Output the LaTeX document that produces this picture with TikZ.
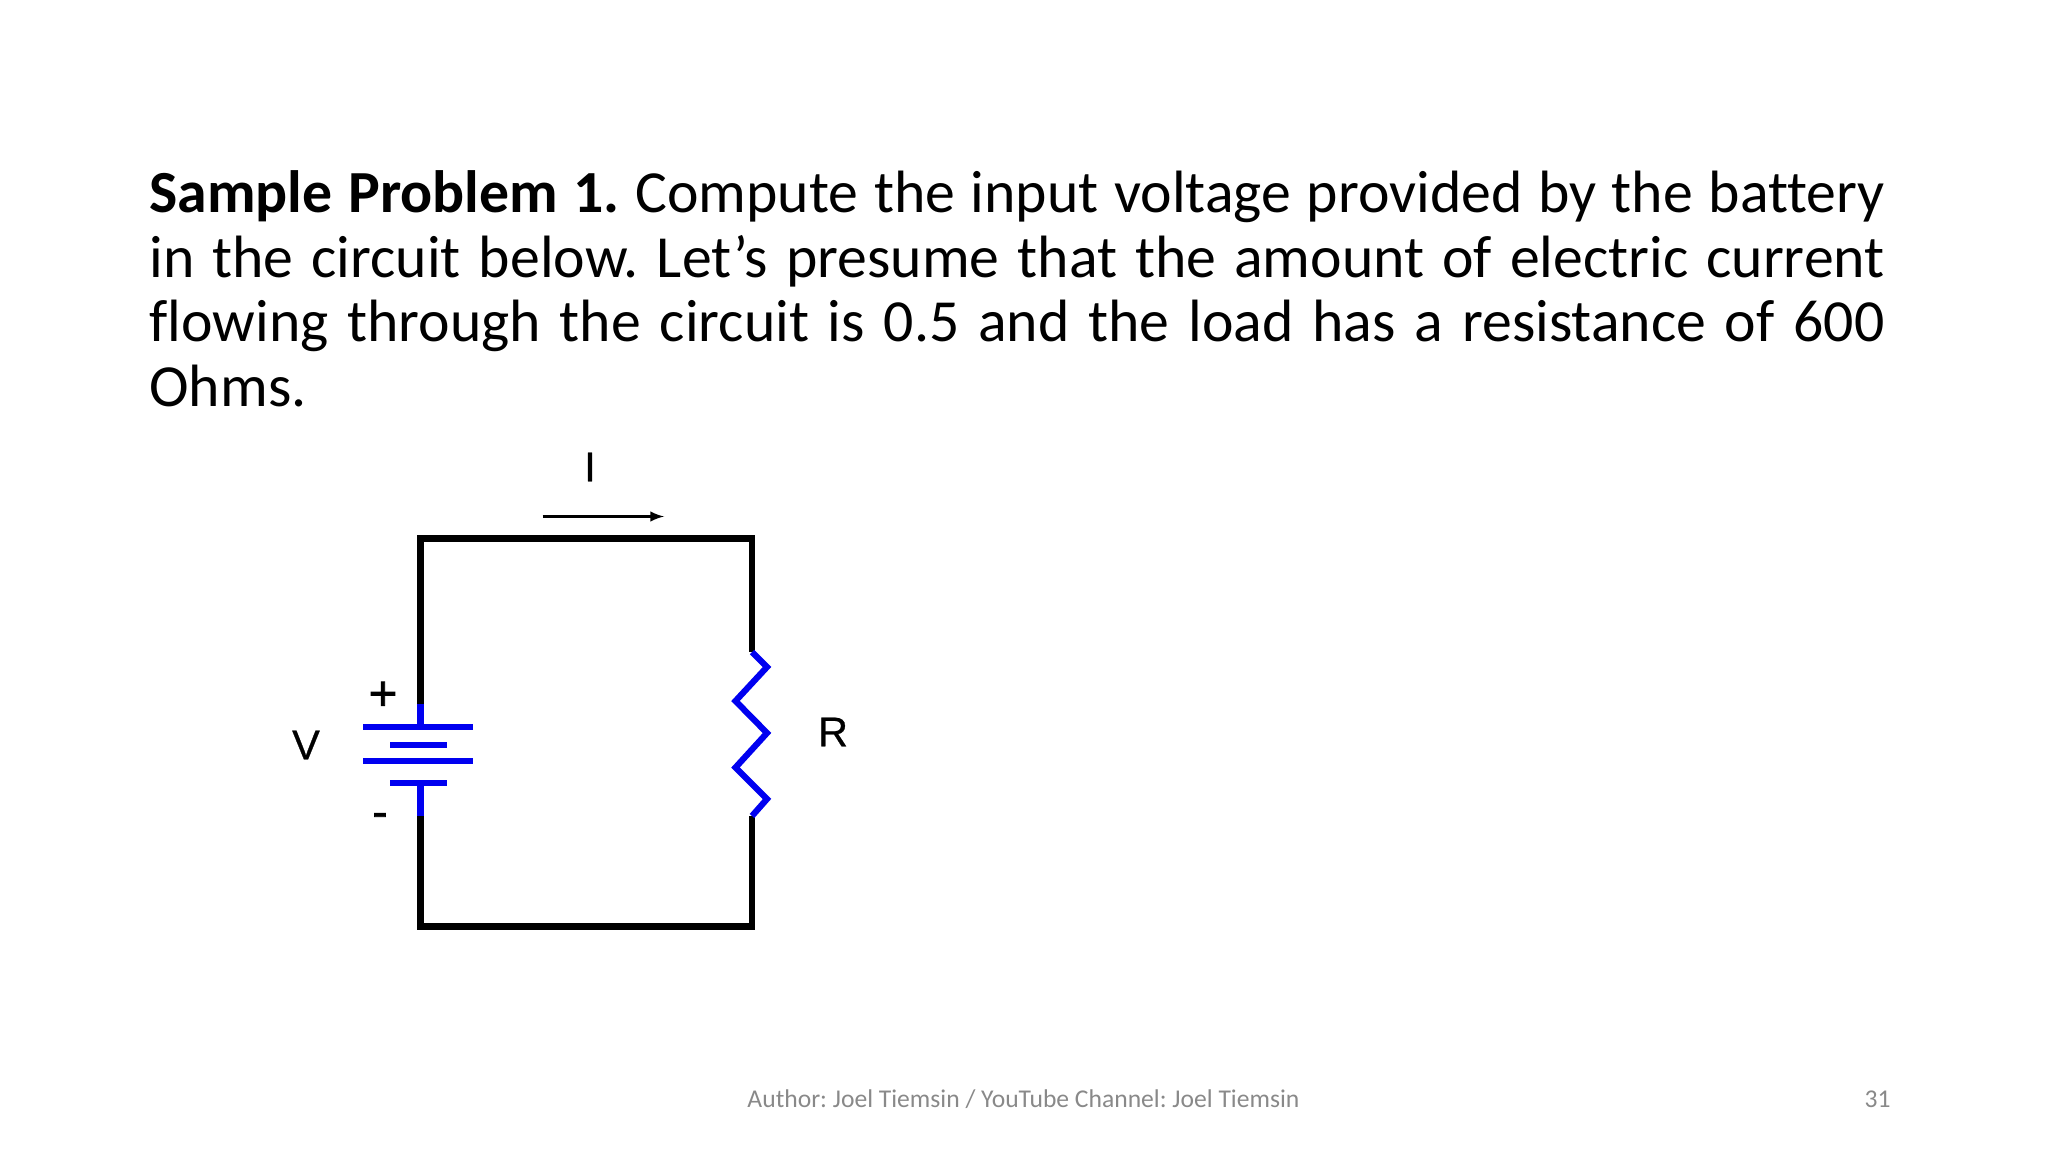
\documentclass[tikz,border=0pt]{standalone}
\usepackage{fontspec}
\setmainfont[Ligatures=NoCommon]{Carlito}
\newfontfamily\labelfont[FakeBold=0.6]{Liberation Sans}
\newfontfamily\signfont[FakeBold=1.6]{Liberation Sans}
\frenchspacing
\definecolor{wireblue}{RGB}{0,0,240}
\definecolor{footgray}{RGB}{137,137,137}
\begin{document}
\begin{tikzpicture}[x=0.46875pt, y=-0.46875pt,
        wire/.style={draw, black, line width=2.9pt},
        part/.style={draw, wireblue, line width=2.9pt},
        plate/.style={draw, wireblue, line width=3.1pt},
        lab/.style={inner sep=0pt, font=\labelfont\fontsize{19.5}{19.5}\selectfont},
        foot/.style={inner sep=0pt, footgray, font=\fontsize{12}{14}\selectfont}]
    \useasboundingbox (0,0) rectangle (2048,1152);
    \node[anchor=north west, inner sep=0pt, text width=813.4pt, align=justify,
        font=\fontsize{28}{30.2}\selectfont] (problem) at (149,170.5)
        {\textbf{Sample Problem 1.} Compute the input voltage provided by the battery\linebreak
        in the circuit below. Let’s presume that the amount of electric current\linebreak
        flowing through the circuit is 0.5 and the load has a resistance of 600\linebreak
        Ohms.};

    \coordinate (tl) at (420.5,538.5);
    \coordinate (tr) at (752,538.5);
    \coordinate (bl) at (420.5,926.5);
    \coordinate (br) at (752,926.5);
    \coordinate (batplus) at (420.5,704);
    \coordinate (batminus) at (420.5,816);
    \coordinate (platea) at (420.5,727);
    \coordinate (plated) at (420.5,783);
    \coordinate (resa) at (752,652);
    \coordinate (resb) at (767,667);
    \coordinate (resc) at (735.5,701);
    \coordinate (resd) at (767,733);
    \coordinate (rese) at (735.5,767.5);
    \coordinate (resf) at (767,799);
    \coordinate (resg) at (752,816);

    \draw[wire] (batplus) -- (tl) -- (tr) -- (resa);
    \draw[wire] (batminus) -- (bl) -- (br) -- (resg);
    \draw[part] (batplus) -- (platea);
    \draw[part] (plated) -- (batminus);
    \draw[plate] (363,727) -- (473,727);
    \draw[plate] (390,745) -- (446.5,745);
    \draw[plate] (363,761) -- (473,761);
    \draw[plate] (390,783) -- (446.5,783);
    \draw[part] (resa) -- (resb) -- (resc) -- (resd) -- (rese) -- (resf) -- (resg);

    \coordinate (arrowa) at (542.5,516.5);
    \coordinate (arrowb) at (664,516.5);
    \draw[-latex, line width=1.2pt] (arrowa) -- (arrowb);

    \node[lab] (curr) at (590,467) {I};
    \node[lab] (volt) at (306,745) {V};
    \node[lab] (res) at (833,732) {R};
    \node[lab, font=\signfont\fontsize{23}{23}\selectfont] (plus) at (383,696) {+};
    \node[lab, font=\signfont\fontsize{21}{21}\selectfont] (minus) at (380,820) {-};

    \node[foot] (author) at (1023.5,1099) {Author: Joel Tiemsin / YouTube Channel: Joel Tiemsin};
    \node[foot, anchor=east] (page) at (1891,1099) {31};
\end{tikzpicture}
\end{document}
